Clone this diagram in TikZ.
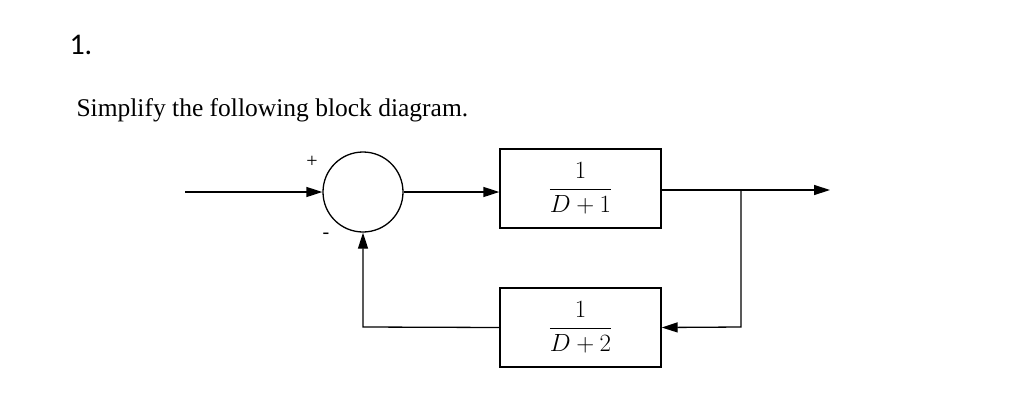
\documentclass[tikz,border=0pt]{standalone}
\usepackage{amsmath}
\usepackage{fontspec}
\setmainfont{Liberation Serif}
\newfontfamily\calib{Carlito}
\usetikzlibrary{arrows.meta}
\begin{document}
\begin{tikzpicture}[x=1pt,y=-1pt,
  blk/.style={draw,line width=1.3pt,minimum width=161pt,minimum height=79pt,inner sep=0pt},
  ln/.style={line width=1.3pt},
  ar/.style={ln,-{Triangle[length=16pt,width=10pt]}}]
\useasboundingbox (0,0) rectangle (1024,407);
\node[anchor=west,font=\calib\fontsize{30}{32}\selectfont] (t1) at (66,45) {1.};
\node[anchor=west,font=\fontsize{25.5}{28}\selectfont] (t2) at (73,110) {Simplify the following block diagram.};
\node[draw,circle,line width=1.3pt,minimum size=80pt,inner sep=0pt] (s) at (363,192) {};
\node[blk] (b1) at (580.5,188.5) {\fontsize{23}{25}\selectfont$\dfrac{1}{D+1}$};
\node[blk] (b2) at (580.5,327.5) {\fontsize{23}{25}\selectfont$\dfrac{1}{D+2}$};
\coordinate (in) at (185,192);
\coordinate (out) at (830,190);
\coordinate (br) at (741,190);
\coordinate (brd) at (741,327);
\coordinate (c1) at (363,327);
\node[font=\fontsize{20}{22}\selectfont] (p) at (312,162) {+};
\node[font=\fontsize{20}{22}\selectfont] (m) at (326,236) {-};
\draw[ar] (in) -- (s.west);
\draw[ar] (s.east) -- (b1.west |- s.east);
\draw[ar] (b1.east |- out) -- (out);
\draw[ar] (br) -- (brd) -- (b2.east);
\draw[ar] (b2.west) -- (c1) -- (s.south);
\end{tikzpicture}
\end{document}
